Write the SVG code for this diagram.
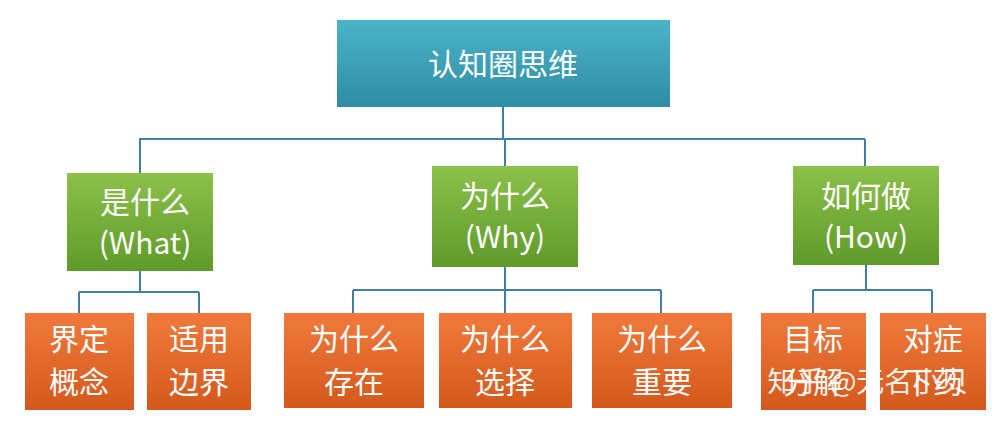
<svg xmlns="http://www.w3.org/2000/svg" width="1007" height="427" viewBox="0 0 1007 427">
<defs>
<linearGradient id="gb" x1="0" y1="0" x2="0" y2="1"><stop offset="0" stop-color="#4bb4c9"/><stop offset="1" stop-color="#2f8ca5"/></linearGradient>
<linearGradient id="gg" x1="0" y1="0" x2="0" y2="1"><stop offset="0" stop-color="#8cc14a"/><stop offset="1" stop-color="#5f9a2a"/></linearGradient>
<linearGradient id="go" x1="0" y1="0" x2="0" y2="1"><stop offset="0" stop-color="#f07a3c"/><stop offset="1" stop-color="#d4581c"/></linearGradient>
</defs>
<style>
text{font-family:"Noto Sans CJK SC","Liberation Sans",sans-serif;fill:#fff;text-anchor:middle;font-size:30px}
.c{fill:none;stroke:#3f7fa6;stroke-width:2}
.b{fill:url(#gb)}.g{fill:url(#gg)}.o{fill:url(#go)}
</style>
<rect width="1007" height="427" fill="#fff"/>
<g id="connectors">
<path class="c" d="M503 107V139M139 139H865M140 139V173M505 139V166M865 139V166"/>
<path class="c" d="M140 271V292M79 292H199M79 292V313M199 292V313"/>
<path class="c" d="M505 267V290M353 290H661M353 290V313M505 290V313M661 290V313"/>
<path class="c" d="M866 265V290M813 290H932M813 290V313M932 290V313"/>
</g>
<g id="root"><rect class="b" x="337" y="20" width="333" height="87"/><text x="503" y="75">认知圈思维</text></g>
<g id="what"><rect class="g" x="67" y="173" width="146" height="98"/><text x="145" y="213">是什么</text><text x="145" y="254">(What)</text></g>
<g id="why"><rect class="g" x="432" y="166" width="146" height="101"/><text x="505" y="207">为什么</text><text x="505" y="248">(Why)</text></g>
<g id="how"><rect class="g" x="793" y="166" width="146" height="99"/><text x="866" y="207">如何做</text><text x="866" y="248">(How)</text></g>
<g id="n1"><rect class="o" x="25" y="313" width="109" height="97"/><text x="79" y="350">界定</text><text x="79" y="393">概念</text></g>
<g id="n2"><rect class="o" x="147" y="313" width="104" height="97"/><text x="199" y="350">适用</text><text x="199" y="393">边界</text></g>
<g id="n3"><rect class="o" x="284" y="313" width="140" height="95"/><text x="354" y="350">为什么</text><text x="354" y="393">存在</text></g>
<g id="n4"><rect class="o" x="439" y="313" width="133" height="95"/><text x="505" y="350">为什么</text><text x="505" y="393">选择</text></g>
<g id="n5"><rect class="o" x="592" y="313" width="140" height="95"/><text x="662" y="350">为什么</text><text x="662" y="393">重要</text></g>
<g id="n6"><rect class="o" x="761" y="313" width="105" height="97"/><text x="813" y="350">目标</text><text x="813" y="393">分解</text></g>
<g id="n7"><rect class="o" x="880" y="313" width="106" height="97"/><text x="933" y="350">对症</text><text x="933" y="393">下药</text></g>
<text x="868" y="392" style="font-size:28px;fill:#fff;opacity:0.9">知乎 @无名小贝</text>
</svg>
